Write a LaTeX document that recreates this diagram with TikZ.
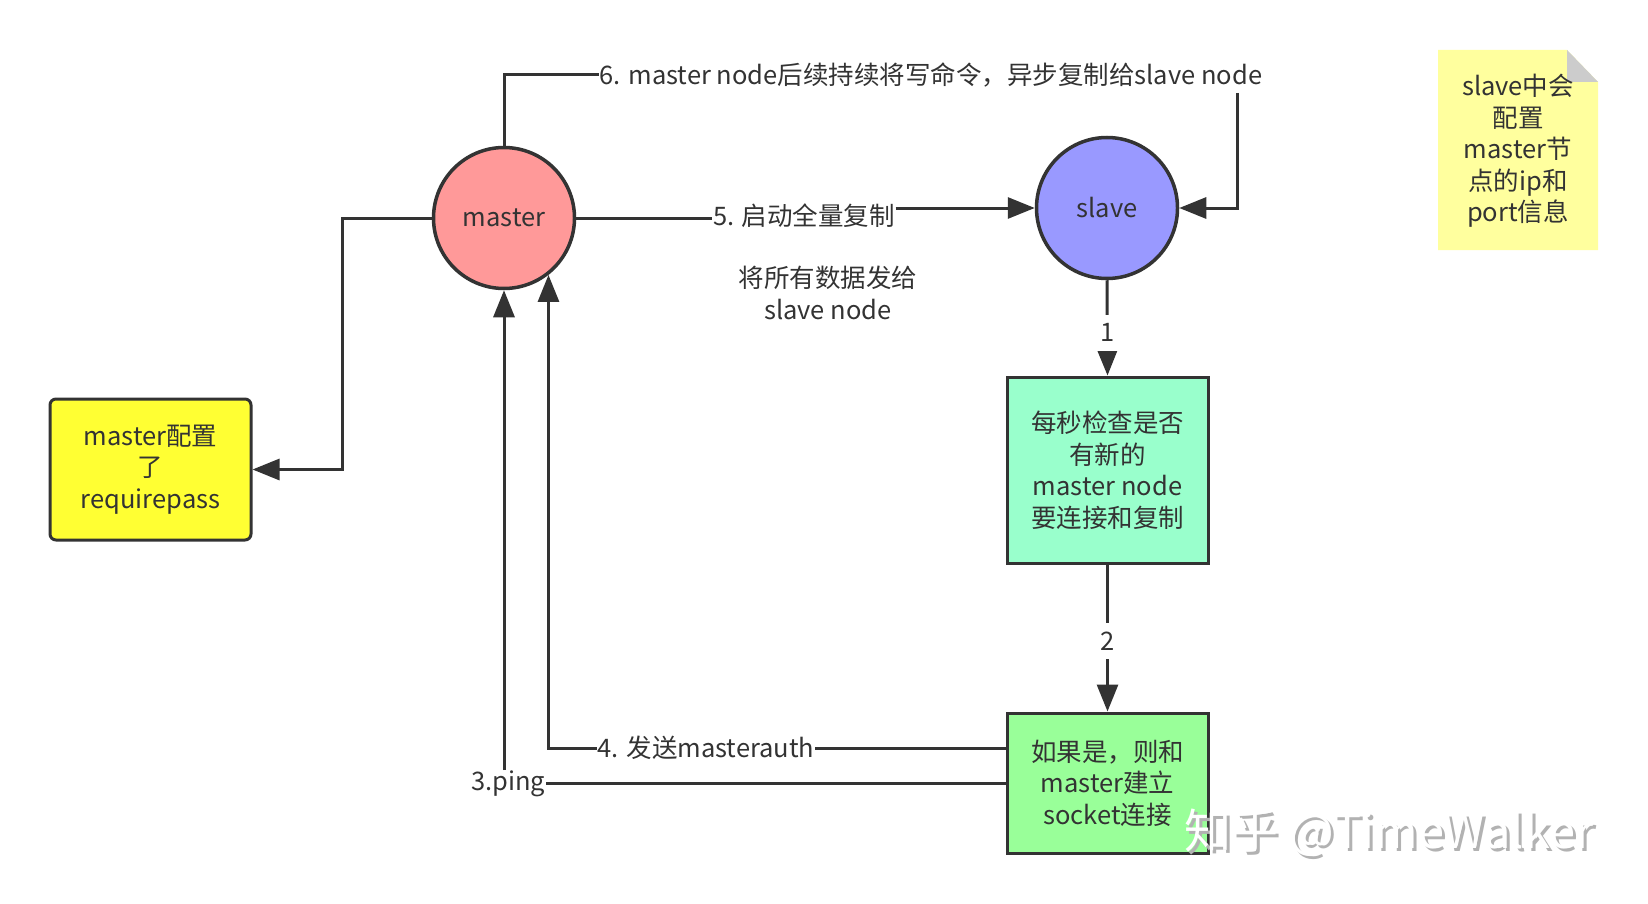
\documentclass[tikz,border=0pt]{standalone}
\usepackage{fontspec}
\setmainfont{Noto Sans CJK SC}
\usetikzlibrary{arrows.meta}
\definecolor{ink}{HTML}{333333}
\definecolor{txt}{HTML}{333333}
\definecolor{masterfill}{HTML}{FF9999}
\definecolor{slavefill}{HTML}{9999FF}
\definecolor{reqfill}{HTML}{FFFF33}
\definecolor{chkfill}{HTML}{99FFCC}
\definecolor{sockfill}{HTML}{99FF99}
\definecolor{notefill}{HTML}{FFFF9E}
\definecolor{foldfill}{HTML}{CCCCCC}
\tikzset{
  basefont/.style={font=\fontsize{25.5}{31.5}\selectfont, text=txt, align=center},
  circ/.style={circle, draw=ink, line width=3.5pt, minimum size=141pt, inner sep=0pt, basefont},
  boxnode/.style={rectangle, draw=ink, line width=3pt, inner sep=0pt, basefont},
  lbl/.style={basefont, fill=white, inner sep=0.5pt},
  numlbl/.style={basefont, fill=white, inner xsep=5pt, inner ysep=0pt, minimum height=36pt},
  freetext/.style={basefont, inner sep=0pt},
  conn/.style={draw=ink, line width=3pt},
  arr/.style={conn, -{Triangle[length=27pt,width=21pt]}},
}
\begin{document}
\begin{tikzpicture}[x=1pt,y=-1pt]
\useasboundingbox (0,0) rectangle (1648,904);
\fill[white] (0,0) rectangle (1648,904);

% nodes
\node[circ, fill=masterfill] (master) at (504,218) {master};
\node[circ, fill=slavefill] (slave) at (1107,208) {slave};
\node[boxnode, fill=reqfill, rounded corners=6pt, minimum width=201pt, minimum height=141pt] (req) at (150.5,469.5) {master配置\\了\\requirepass};
\node[boxnode, fill=chkfill, minimum width=201pt, minimum height=186pt] (chk) at (1107.5,470) {每秒检查是否\\有新的\\master node\\要连接和复制};
\node[boxnode, fill=sockfill, minimum width=201pt, minimum height=140pt] (sock) at (1107.5,783) {如果是，则和\\master建立\\socket连接};

% note
\fill[notefill] (1438,50) -- (1567,50) -- (1598,82) -- (1598,250) -- (1438,250) -- cycle;
\fill[foldfill] (1567,50) -- (1598,82) -- (1567,82) -- cycle;
\node[freetext] (note) at (1518,151) {slave中会\\配置\\master节\\点的ip和\\port信息};

% labels
\node[lbl] (lab6) at (931,75) {6. master node后续持续将写命令，异步复制给slave node};
\node[lbl] (lab5) at (804,216) {5. 启动全量复制};
\node[freetext] (full) at (828,293) {将所有数据发给\\slave node};
\node[lbl] (lab4) at (706,748) {4. 发送masterauth};
\node[lbl] (ping) at (508,784) {3.ping};

\coordinate (c6) at (1237,93);
\coordinate (creq) at (342,218);
\coordinate (c4) at (1007,748);

% connectors
\draw[conn] (master.north) |- (lab6.west);
\draw[arr] (c6) |- (slave.east);
\draw[conn] (master.east) -- (master.east -| lab5.west);
\draw[arr] (lab5.east |- slave.west) -- (slave.west);
\draw[arr] (master.west) -- (creq) |- (req.east);
\draw[arr] (slave.south) -- node[numlbl, pos=0.55] {1} (chk.north);
\draw[arr] (chk.south) -- node[numlbl, pos=0.52] {2} (sock.north);
\draw[conn] (c4) -- (lab4.east |- c4);
\draw[arr] (lab4.west) -| (master.-52.5);
\draw[conn] (sock.west) -- (ping.east |- sock.west);
\draw[arr] (ping.north -| master.south) -- (master.south);

% watermark
\node[font=\fontsize{47}{50}\selectfont, text=gray!60, inner sep=0pt] (wmshadow) at (1392,836) {知乎 @TimeWalker};
\node[font=\fontsize{47}{50}\selectfont, text=white, inner sep=0pt] (wm) at (1389,833) {知乎 @TimeWalker};
\end{tikzpicture}
\end{document}
